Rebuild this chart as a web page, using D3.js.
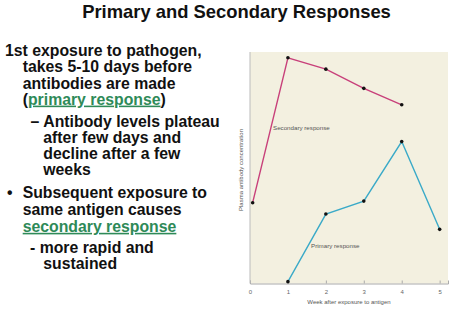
<!DOCTYPE html>
<html><head><meta charset="utf-8">
<script src="https://cdn.jsdelivr.net/npm/d3@7"></script>
<style>
html,body{margin:0;padding:0;background:#fff;}
svg{display:block;}
</style></head>
<body>
<svg id="c" width="474" height="333"></svg>
<script>
// ---- data ----
const weekTicks = [0, 1, 2, 3, 4, 5];
const secondaryWeeks = [0.07, 1, 2, 3, 4];
const secondaryValues = [34.9, 97.5, 92.6, 84.3, 77.2];
const primaryWeeks = [1, 2, 3, 4, 5];
const primaryValues = [0.8, 30.0, 35.6, 61.3, 23.4];
const titleText = "Primary and Secondary Responses";
const xAxisLabel = "Week after exposure to antigen";
const yAxisLabel = "Plasma antibody concentration";
const secondaryLabel = "Secondary response";
const primaryLabel = "Primary response";

const svg = d3.select("#c");
const FONT = "'Liberation Sans', Arial, sans-serif";

// title
svg.append("text").attr("x", 236.5).attr("y", 17.5).attr("text-anchor", "middle")
  .attr("font-family", FONT).attr("font-weight", "bold").attr("font-size", 18.4)
  .attr("fill", "#111").text(titleText);

// left bullet text
const lines = [
  {x: 5, y: 56, parts: [{t: "1st exposure to pathogen,"}]},
  {x: 22.7, y: 72.3, parts: [{t: "takes 5-10 days before"}]},
  {x: 22.7, y: 88.5, parts: [{t: "antibodies are made"}]},
  {x: 22.7, y: 104.6, parts: [{t: "("}, {t: "primary response", g: true}, {t: ")"}]},
  {x: 30.5, y: 126.7, parts: [{t: "–"}]},
  {x: 43.3, y: 126.7, parts: [{t: "Antibody levels plateau"}]},
  {x: 43.3, y: 143.1, parts: [{t: "after few days and"}]},
  {x: 43.3, y: 159.2, parts: [{t: "decline after a few"}]},
  {x: 43.3, y: 175.3, parts: [{t: "weeks"}]},
  {x: 7, y: 197.7, parts: [{t: "•"}]},
  {x: 22.7, y: 197.7, parts: [{t: "Subsequent exposure to"}]},
  {x: 22.7, y: 214.8, parts: [{t: "same antigen causes"}]},
  {x: 22.7, y: 231.8, parts: [{t: "secondary response", g: true}]},
  {x: 30, y: 252.6, parts: [{t: "- more rapid and"}]},
  {x: 43.3, y: 269.2, parts: [{t: "sustained"}]}
];
lines.forEach(l => {
  const t = svg.append("text").attr("x", l.x).attr("y", l.y)
    .attr("font-family", FONT).attr("font-weight", "bold").attr("font-size", 15.8)
    .attr("fill", "#111");
  l.parts.forEach(p => {
    const s = t.append("tspan").text(p.t);
    if (p.g) s.attr("fill", "#2e8a58").attr("text-decoration", "underline");
  });
});

// ---- chart ----
const x = d3.scaleLinear().domain([0, 5.22]).range([250, 448]);
const y = d3.scaleLinear().domain([0, 100]).range([283.5, 52]);

svg.append("rect").attr("x", x(0)).attr("y", y(100))
  .attr("width", x(5.22) - x(0)).attr("height", y(0) - y(100)).attr("fill", "#f3f0e0");

// axes
const xAxis = d3.axisBottom(x).tickValues(weekTicks).tickSize(-3).tickPadding(6).tickFormat(d3.format("d"));
const gx = svg.append("g").attr("transform", `translate(0,${y(0)})`).call(xAxis);
gx.select(".domain").attr("stroke", "#aaa").attr("stroke-width", 1);
gx.selectAll(".tick line").attr("stroke", "#aaa");
gx.selectAll(".tick text").attr("font-family", FONT).attr("font-size", 6).attr("fill", "#666");

svg.append("line").attr("x1", x(0)).attr("x2", x(0)).attr("y1", y(100)).attr("y2", y(0))
  .attr("stroke", "#bbb").attr("stroke-width", 1);

svg.append("text").attr("x", (x(0) + x(5.22)) / 2 + 0).attr("y", 304)
  .attr("text-anchor", "middle").attr("font-family", FONT).attr("font-size", 6)
  .attr("fill", "#555").text(xAxisLabel);

svg.append("text").attr("transform", `translate(243,170) rotate(-90)`)
  .attr("text-anchor", "middle").attr("font-family", FONT).attr("font-size", 6)
  .attr("fill", "#555").text(yAxisLabel);

// lines
const line = d3.line().x(d => x(d[0])).y(d => y(d[1]));
const sec = secondaryWeeks.map((w, i) => [w, secondaryValues[i]]);
const pri = primaryWeeks.map((w, i) => [w, primaryValues[i]]);

svg.append("path").datum(sec).attr("d", line).attr("fill", "none")
  .attr("stroke", "#c8407a").attr("stroke-width", 1.4);
svg.append("path").datum(pri).attr("d", line).attr("fill", "none")
  .attr("stroke", "#3aaac8").attr("stroke-width", 1.4);

svg.selectAll("circle.s").data(sec).join("circle").attr("class", "s")
  .attr("cx", d => x(d[0])).attr("cy", d => y(d[1])).attr("r", 1.8).attr("fill", "#111");
svg.selectAll("circle.p").data(pri).join("circle").attr("class", "p")
  .attr("cx", d => x(d[0])).attr("cy", d => y(d[1])).attr("r", 1.8).attr("fill", "#111");

// series labels
svg.append("text").attr("x", 273).attr("y", 130).attr("font-family", FONT)
  .attr("font-size", 6.2).attr("fill", "#555").text(secondaryLabel);
svg.append("text").attr("x", 311).attr("y", 248).attr("font-family", FONT)
  .attr("font-size", 6.2).attr("fill", "#555").text(primaryLabel);
</script>
</body></html>
